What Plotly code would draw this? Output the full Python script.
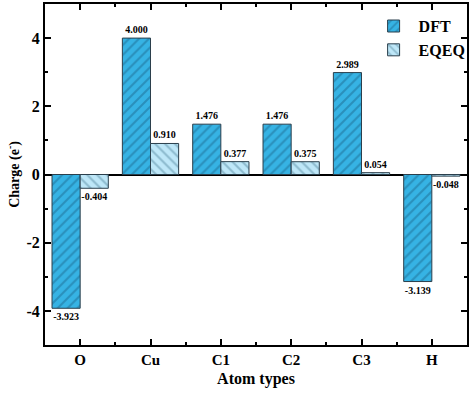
import plotly.graph_objects as go

categories = ["O", "Cu", "C1", "C2", "C3", "H"]
dft_values = [-3.923, 4.000, 1.476, 1.476, 2.989, -3.139]
eqeq_values = [-0.404, 0.910, 0.377, 0.375, 0.054, -0.048]
y_tick_values = [-4, -2, 0, 2, 4]
y_tick_labels = ["-4", "-2", "0", "2", "4"]

xpos = list(range(len(categories)))
FONT = "Liberation Serif"

fig = go.Figure()
fig.add_trace(go.Bar(
    x=xpos, y=dft_values, name="DFT",
    marker=dict(color="#36B3E4", line=dict(color="#2b3f4c", width=1),
                pattern=dict(shape="/", fgcolor="#1d6c92", size=7, solidity=0.3)),
    texttemplate="%{y:.3f}", textposition="outside", constraintext="none",
    cliponaxis=False,
    textfont=dict(family=FONT, size=10, color="black", weight="bold"),
))
fig.add_trace(go.Bar(
    x=xpos, y=eqeq_values, name="EQEQ",
    marker=dict(color="#BEE7F8", line=dict(color="#2b3f4c", width=1),
                pattern=dict(shape="\\", fgcolor="#5b8ea4", size=7, solidity=0.3)),
    texttemplate="%{y:.3f}", textposition="outside", constraintext="none",
    cliponaxis=False,
    textfont=dict(family=FONT, size=10, color="black", weight="bold"),
))

fig.update_layout(
    width=474, height=396,
    margin=dict(l=45, r=6, t=4, b=51),
    paper_bgcolor="white", plot_bgcolor="white",
    barmode="group", bargap=0.2, bargroupgap=0,
    font=dict(family=FONT, size=14, color="black", weight="bold"),
    legend=dict(x=0.765, y=0.985, xanchor="left", yanchor="top",
                bgcolor="rgba(0,0,0,0)", font=dict(size=16, family=FONT, weight="bold"),
                itemwidth=40, tracegroupgap=2),
    xaxis=dict(
        range=[-0.5, len(categories) - 0.5],
        tickvals=xpos, ticktext=categories, automargin=False,
        showline=True, linecolor="black", linewidth=2, mirror="allticks",
        ticks="inside", ticklen=6, tickwidth=2, tickcolor="black",
        minor=dict(tickvals=[i + 0.5 for i in xpos[:-1]], ticks="inside",
                   ticklen=3, tickwidth=2, tickcolor="black"),
        showgrid=False, zeroline=False,
        title=dict(text="Atom types", font=dict(size=16, family=FONT, weight="bold"), standoff=6),
        tickfont=dict(size=15, family=FONT, weight="bold"),
    ),
    yaxis=dict(
        range=[-5, 5], automargin=False,
        tickvals=y_tick_values, ticktext=y_tick_labels,
        showline=True, linecolor="black", linewidth=2, mirror="allticks",
        ticks="inside", ticklen=6, tickwidth=2, tickcolor="black",
        minor=dict(tickvals=[-5, -3, -1, 1, 3, 5], ticks="inside",
                   ticklen=3, tickwidth=2, tickcolor="black"),
        showgrid=False,
        zeroline=True, zerolinecolor="black", zerolinewidth=2,
        title=dict(text="Charge (e<sup>-</sup>)", font=dict(size=14, family=FONT, weight="bold"), standoff=4),
        tickfont=dict(size=16, family=FONT, weight="bold"),
    ),
)

fig.write_html("out.html", config={"displayModeBar": False},
               post_script="document.body.style.margin='0';")
